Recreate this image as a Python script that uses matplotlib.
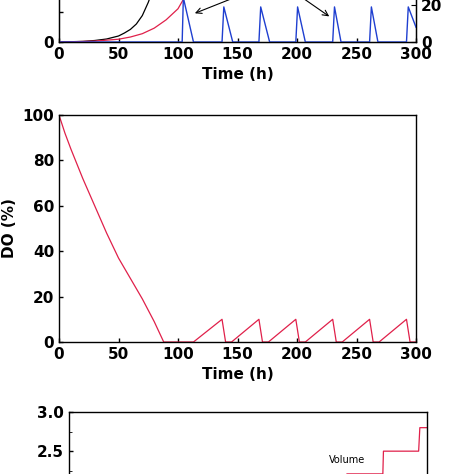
import matplotlib.pyplot as plt

plt.rcParams['font.family'] = 'DejaVu Sans'
plt.rcParams['font.weight'] = 'bold'

# top panel (glucose, cells, product)
t_cell = [0, 20, 30, 40, 50, 55, 60, 65, 70, 75, 85, 95]
cell = [0, 0.1, 0.25, 0.5, 1.0, 1.5, 2.1, 3.0, 4.4, 6.6, 12, 20]
t_prod = [0, 10, 30, 50, 60, 70, 80, 90, 100, 104]
prod = [0, 0.1, 0.5, 1.5, 2.7, 4.5, 7.5, 12, 18, 22.5]
t_glc = [0, 103.5, 104.5, 113, 137, 138.5, 146, 168, 169.5, 177, 199, 200.5,
         207, 230, 231.5, 237, 261, 262.5, 268, 292, 293.5, 300]
glc = [0, 0, 24, 0, 0, 19, 0, 0, 19, 0, 0, 19, 0, 0, 19, 0, 0, 19, 0, 0, 19, 8]

# middle panel (DO)
t_do = [0, 5, 10, 20, 30, 40, 50, 60, 70, 80, 88, 113, 137, 140, 145, 168, 171,
        176, 199, 202, 207, 230, 233, 238, 261, 264, 269, 292, 295, 300]
do = [100, 92, 85, 72, 60, 48, 37, 28, 19, 9, 0, 0, 10, 0, 0, 10, 0,
      0, 10, 0, 0, 10, 0, 0, 10, 0, 0, 10, 0, 0]

# bottom panel (volume)
t_vol = [233, 263, 263.5, 293, 294, 300]
vol = [2.21, 2.21, 2.5, 2.5, 2.8, 2.8]

fig = plt.figure(figsize=(4.74, 4.74), dpi=100)
W = H = 474.0

def ax_at(l, t, r, b):
    return fig.add_axes([l / W, 1 - b / H, (r - l) / W, (b - t) / H])

def style(ax):
    ax.tick_params(direction='in', labelsize=11, width=1, length=3)
    for s in ax.spines.values():
        s.set_linewidth(1)

# top
ax1 = ax_at(59, -150, 416, 42)
ax1.plot(t_cell, cell, color='black', lw=0.9)
ax1.set_xlim(0, 300)
ax1.set_ylim(0, 32)
ax1.set_yticks([0, 5, 10, 15, 20, 25, 30])
ax1.set_yticklabels(['0', '', '', '', '', '', ''])
ax1.set_xticks([0, 50, 100, 150, 200, 250, 300])
ax1.set_xlabel('Time (h)', fontsize=11, fontweight='bold', labelpad=4)
ax1.set_ylabel('Cell and product', fontsize=11, fontweight='bold', y=0.7)
style(ax1)
ax1b = ax1.twinx()
ax1b.plot(t_prod, prod, color='#e0204a', lw=0.9)
ax1b.plot(t_glc, glc, color='#1f3fd0', lw=1.0)
ax1b.set_ylim(0, 104)
ax1b.set_yticks([0, 20, 40, 60, 80, 100])
ax1b.set_ylabel('Glucose', fontsize=11, fontweight='bold', y=0.7)
ax1b.tick_params(direction='in', labelsize=11)
ax1b.annotate('', xy=(112, 15), xytext=(155, 26),
              arrowprops=dict(arrowstyle='->', color='black', lw=0.8))
ax1b.annotate('', xy=(229, 13), xytext=(200, 26),
              arrowprops=dict(arrowstyle='->', color='black', lw=0.8))

# middle
ax2 = ax_at(59, 115, 416, 342)
ax2.plot(t_do, do, color='#e0204a', lw=0.9)
ax2.set_xlim(0, 300)
ax2.set_ylim(0, 100)
ax2.set_xticks([0, 50, 100, 150, 200, 250, 300])
ax2.set_yticks([0, 20, 40, 60, 80, 100])
ax2.set_xlabel('Time (h)', fontsize=11, fontweight='bold', labelpad=4)
ax2.set_ylabel('DO (%)', fontsize=11, fontweight='bold')
style(ax2)

# bottom
ax3 = ax_at(69, 412, 427, 600)
ax3.plot(t_vol, vol, color='#e0204a', lw=0.9)
ax3.set_xlim(0, 300)
ax3.set_ylim(0.6, 3.0)
ax3.set_yticks([1.0, 1.5, 2.0, 2.5, 3.0])
ax3.set_yticks([2.25, 2.75], minor=True)
ax3.set_xticks([])
ax3.text(218, 2.35, 'Volume', fontsize=7, fontweight='normal')
style(ax3)
ax3.tick_params(which='minor', direction='in', length=2)

fig.savefig('out.png', dpi=100)
